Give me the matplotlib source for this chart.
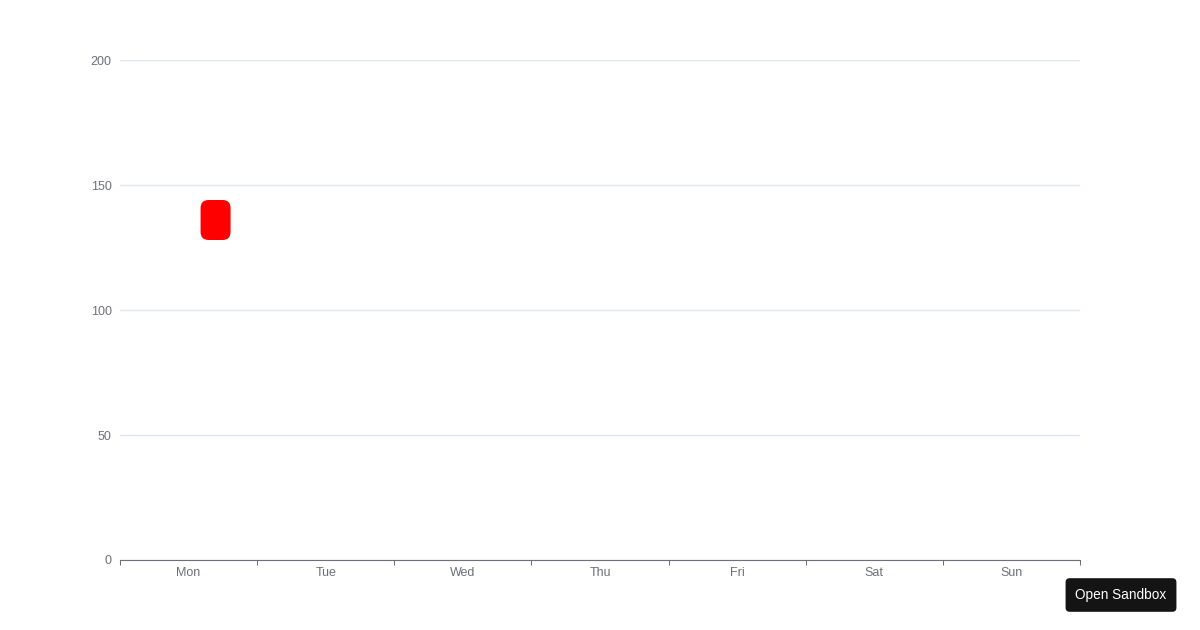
import matplotlib
matplotlib.use("Agg")
import matplotlib.pyplot as plt
from matplotlib.patches import FancyBboxPatch

days = ["Mon", "Tue", "Wed", "Thu", "Fri", "Sat", "Sun"]
values = [136, None, None, None, None, None, None]
y_ticks = [0, 50, 100, 150, 200]

AXIS = "#6E7079"
GRID = "#E0E6F1"

plt.rcParams["font.family"] = ["Liberation Sans", "DejaVu Sans"]

fig = plt.figure(figsize=(12, 6.3), dpi=100)
ax = fig.add_axes([0.1, 70 / 630, 0.8, 500 / 630])

ax.set_xlim(-0.5, len(days) - 0.5)
ax.set_ylim(0, 200)
ax.set_yticks(y_ticks)
ax.grid(axis="y", color=GRID, lw=1)
ax.set_axisbelow(True)

# category ticks sit on the boundaries, labels at the centres
ax.set_xticks([i - 0.5 for i in range(len(days) + 1)])
ax.set_xticklabels([])
ax.set_xticks(range(len(days)), minor=True)
ax.set_xticklabels(days, minor=True)
ax.tick_params(axis="x", which="major", length=3.6, color=AXIS, width=0.75)
ax.tick_params(axis="x", which="minor", length=0, pad=5, labelsize=9, labelcolor=AXIS)
ax.tick_params(axis="y", length=0, pad=6, labelsize=9, labelcolor=AXIS)

for s in ["top", "right", "left"]:
    ax.spines[s].set_visible(False)
ax.spines["bottom"].set_color(AXIS)

# rounded block marker, shifted a bit right of the category centre
for i, v in enumerate(values):
    if v is None:
        continue
    cx, cy = ax.transData.transform((i, v))
    cx += 27
    w, h, r = 30, 40, 8
    box = FancyBboxPatch((cx - w / 2 + r, cy - h / 2 + r), w - 2 * r, h - 2 * r,
                         boxstyle=f"round,pad={r}", transform=None,
                         fc="#FF0000", ec="none", zorder=3)
    fig.patches.append(box)

fig.text(1121 / 1200, 1 - 595 / 630, "Open Sandbox", color="white", fontsize=9.8,
         ha="center", va="center",
         bbox=dict(boxstyle="round,pad=0.72,rounding_size=0.3", fc="#141414", ec="none"))

fig.savefig("out.png", dpi=100)
